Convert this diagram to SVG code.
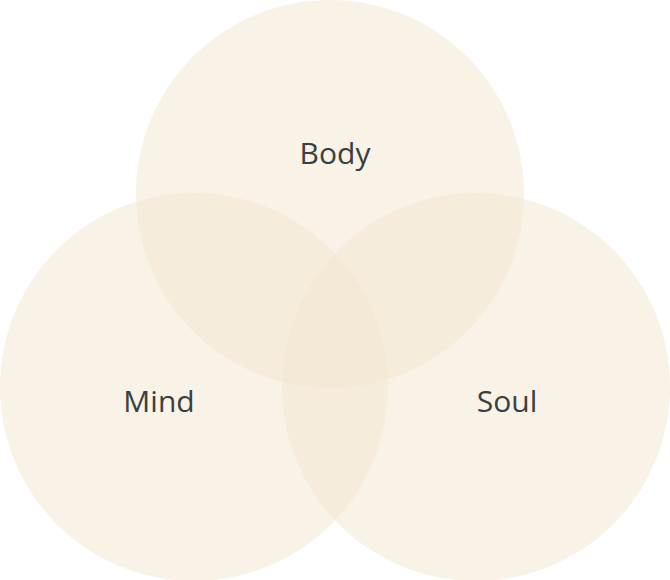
<svg xmlns="http://www.w3.org/2000/svg" width="670" height="580" viewBox="0 0 670 580">
<style>
.c{fill:#f3e7d4;fill-opacity:0.55}
.t{font-family:"Open Sans","Noto Sans",sans-serif;font-size:30px;fill:#3a4040;text-anchor:middle}
</style>
<rect width="670" height="580" fill="#ffffff"/>
<g id="body"><circle class="c" cx="330" cy="194" r="194"/><text class="t" x="335" y="164">Body</text></g>
<g id="mind"><circle class="c" cx="194" cy="387" r="194"/><text class="t" x="159" y="412">Mind</text></g>
<g id="soul"><circle class="c" cx="476" cy="387" r="194"/><text class="t" x="507" y="412">Soul</text></g>
<g id="connectors"></g>
</svg>
